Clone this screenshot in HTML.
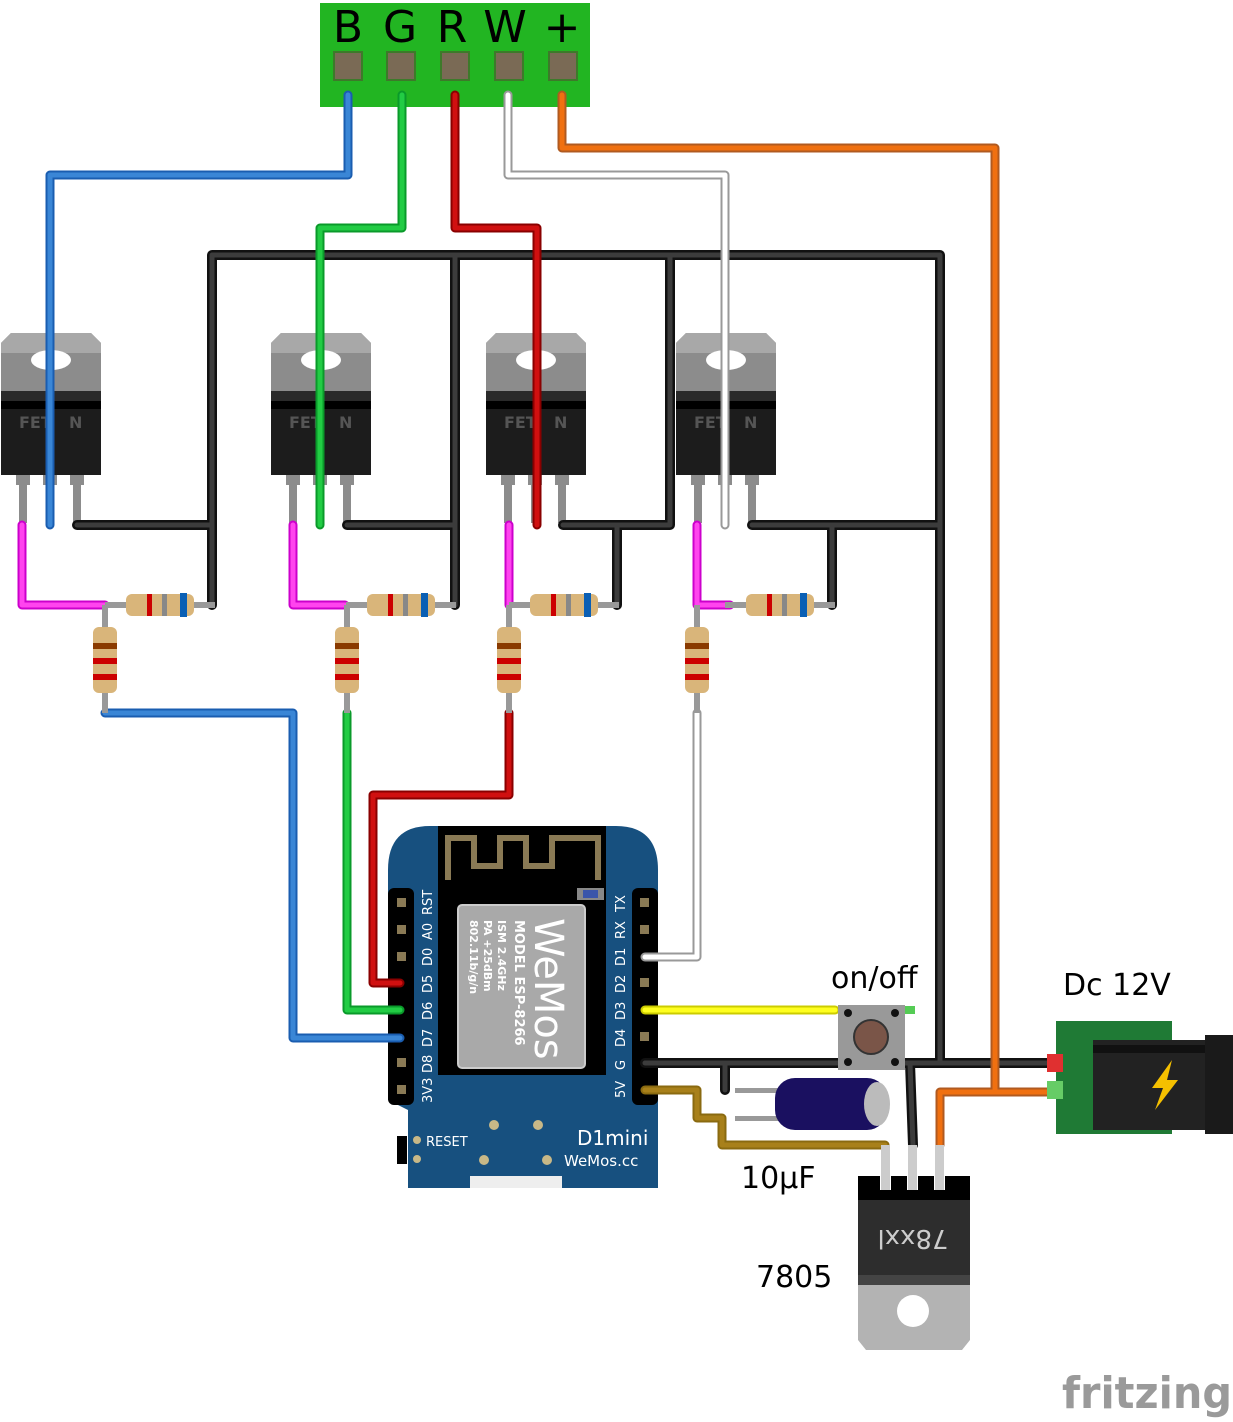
<!DOCTYPE html>
<html><head><meta charset="utf-8"><style>
html,body{margin:0;padding:0;background:#fff}
svg{display:block}
text{font-family:"DejaVu Sans","Liberation Sans",sans-serif}
</style></head><body>
<svg width="1233" height="1422" viewBox="0 0 1233 1422" xmlns="http://www.w3.org/2000/svg">
<defs>
<g id="fet">
  <path d="M0,10 L10,0 H90 L100,10 V58 H0Z" fill="#8c8c8c"/>
  <path d="M0,10 L10,0 H90 L100,10 V20 H0Z" fill="#a8a8a8"/>
  <ellipse cx="50" cy="27" rx="20" ry="10" fill="#fff"/>
  <rect x="0" y="58" width="100" height="24" fill="#2a2a2a"/>
  <rect x="0" y="68" width="100" height="8" fill="#000"/>
  <rect x="0" y="76" width="100" height="66" fill="#1c1c1c"/>
  <text x="18" y="95" font-size="16" font-weight="bold" fill="#555">FET</text>
  <text x="68" y="95" font-size="16" font-weight="bold" fill="#555">N</text>
  <rect x="15" y="142" width="14" height="10" fill="#8c8c8c"/><rect x="18" y="150" width="8" height="40" fill="#8c8c8c"/>
  <rect x="42" y="142" width="14" height="10" fill="#8c8c8c"/><rect x="45" y="150" width="8" height="40" fill="#8c8c8c"/>
  <rect x="69" y="142" width="14" height="10" fill="#8c8c8c"/><rect x="72" y="150" width="8" height="40" fill="#8c8c8c"/>
</g>
<g id="resH">
  <rect x="-55" y="-3" width="110" height="6" fill="#999"/>
  <rect x="-34" y="-11" width="68" height="22" rx="6" fill="#d9b57a"/>
  <rect x="-13" y="-11" width="5" height="22" fill="#c00"/>
  <rect x="2" y="-11" width="5" height="22" fill="#888"/>
  <rect x="20" y="-12" width="7" height="24" fill="#0a5fb4"/>
</g>
<g id="resV">
  <rect x="-3" y="0" width="6" height="108" fill="#999"/>
  <rect x="-12" y="22" width="24" height="66" rx="6" fill="#d9b57a"/>
  <rect x="-12" y="38" width="24" height="6" fill="#8a3a00"/>
  <rect x="-12" y="53" width="24" height="6" fill="#c00"/>
  <rect x="-12" y="69" width="24" height="6" fill="#c00"/>
</g>
</defs>

<rect x="320" y="3" width="270" height="104" fill="#22b522"/>
<g fill="#7a6a55" stroke="#3d7a2a" stroke-width="2">
<rect x="334" y="52" width="28" height="28"/><rect x="387" y="52" width="28" height="28"/><rect x="441" y="52" width="28" height="28"/><rect x="495" y="52" width="28" height="28"/><rect x="549" y="52" width="28" height="28"/>
</g>
<g font-size="44" fill="#000" text-anchor="middle">
<text x="348" y="42">B</text><text x="400" y="42">G</text><text x="452" y="42">R</text><text x="505" y="42">W</text><text x="562" y="42">+</text>
</g>

<use href="#fet" x="1" y="333"/>
<use href="#fet" x="271" y="333"/>
<use href="#fet" x="486" y="333"/>
<use href="#fet" x="676" y="333"/>

<path d="M388,1100 V870 Q388,826 430,826 H616 Q658,826 658,870 V1188 H408 V1110 Z" fill="#17507f"/>
<rect x="438" y="826" width="168" height="249" fill="#000"/>
<path d="M448,880 V838 H474 V866 H500 V838 H526 V866 H552 V838 H598 V880" fill="none" stroke="#8a7a55" stroke-width="6"/>
<rect x="577" y="888" width="27" height="12" fill="#888"/><rect x="583" y="890" width="15" height="8" fill="#3a55aa"/>
<rect x="458" y="905" width="127" height="163" rx="4" fill="#a9a9a9" stroke="#ccc" stroke-width="2"/>
<text transform="translate(515,920) rotate(90)" font-size="13" font-weight="bold" fill="#fff">MODEL ESP-8266</text>
<text transform="translate(498,920) rotate(90)" font-size="11" font-weight="bold" fill="#fff">ISM 2.4GHz</text>
<text transform="translate(484,920) rotate(90)" font-size="11" font-weight="bold" fill="#fff">PA +25dBm</text>
<text transform="translate(470,920) rotate(90)" font-size="11" font-weight="bold" fill="#fff">802.11b/g/n</text>
<text transform="translate(535,918) rotate(90)" font-size="40" fill="#fff">WeMos</text>
<g fill="#000">
<rect x="388" y="888" width="26" height="217" rx="6"/><rect x="632" y="888" width="26" height="217" rx="6"/>
</g>
<g fill="#8a7a55">
<rect x="397" y="898" width="9" height="9"/><rect x="397" y="925" width="9" height="9"/><rect x="397" y="952" width="9" height="9"/><rect x="397" y="1058" width="9" height="9"/><rect x="397" y="1085" width="9" height="9"/>
<rect x="640" y="898" width="9" height="9"/><rect x="640" y="925" width="9" height="9"/><rect x="640" y="978" width="9" height="9"/><rect x="640" y="1032" width="9" height="9"/>
</g>
<g font-size="13" fill="#fff" font-family="Liberation Mono">
<text transform="translate(432,915) rotate(-90)">RST</text>
<text transform="translate(432,940) rotate(-90)">A0</text>
<text transform="translate(432,966) rotate(-90)">D0</text>
<text transform="translate(432,993) rotate(-90)">D5</text>
<text transform="translate(432,1020) rotate(-90)">D6</text>
<text transform="translate(432,1047) rotate(-90)">D7</text>
<text transform="translate(432,1073) rotate(-90)">D8</text>
<text transform="translate(432,1103) rotate(-90)">3V3</text>
<text transform="translate(625,912) rotate(-90)">TX</text>
<text transform="translate(625,939) rotate(-90)">RX</text>
<text transform="translate(625,966) rotate(-90)">D1</text>
<text transform="translate(625,993) rotate(-90)">D2</text>
<text transform="translate(625,1020) rotate(-90)">D3</text>
<text transform="translate(625,1047) rotate(-90)">D4</text>
<text transform="translate(625,1070) rotate(-90)">G</text>
<text transform="translate(625,1098) rotate(-90)">5V</text>
</g>
<text x="426" y="1146" font-size="13" fill="#fff" font-family="Liberation Mono">RESET</text>
<text x="577" y="1145" font-size="20" fill="#fff" font-family="Liberation Mono">D1mini</text>
<text x="564" y="1166" font-size="15" fill="#fff" font-family="Liberation Mono">WeMos.cc</text>
<rect x="397" y="1136" width="10" height="28" fill="#000"/>
<rect x="470" y="1176" width="92" height="12" fill="#eee"/>
<g fill="#c8b887"><circle cx="494" cy="1125" r="5"/><circle cx="538" cy="1125" r="5"/><circle cx="484" cy="1160" r="5"/><circle cx="547" cy="1160" r="5"/><circle cx="417" cy="1140" r="4"/><circle cx="417" cy="1159" r="4"/></g>

<g fill="none" stroke-linejoin="round" stroke-linecap="round">
<g stroke="#111" stroke-width="10">
<path d="M212,255 H940 M212,255 V605 M455,255 V605 M670,255 V525 M940,255 V1063 M77,525 H212 M347,525 H455 M563,525 H670 M617,525 V605 M752,525 H940 M832,525 V605 M645,1063 H1050 M725,1063 V1090 M910,1063 L913,1145"/>
</g>
<g stroke="#3c3c3c" stroke-width="5">
<path d="M212,255 H940 M212,255 V605 M455,255 V605 M670,255 V525 M940,255 V1063 M77,525 H212 M347,525 H455 M563,525 H670 M617,525 V605 M752,525 H940 M832,525 V605 M645,1063 H1050 M725,1063 V1090 M910,1063 L913,1145"/>
</g>
<path d="M348,95 V175 H50 V525 M105,713 H293 V1038 H400" stroke="#1a5db0" stroke-width="9"/>
<path d="M348,95 V175 H50 V525 M105,713 H293 V1038 H400" stroke="#3a86d6" stroke-width="5"/>
<path d="M402,95 V228 H320 V525 M347,713 V1010 H400" stroke="#0a9a2a" stroke-width="9"/>
<path d="M402,95 V228 H320 V525 M347,713 V1010 H400" stroke="#22cc44" stroke-width="5"/>
<path d="M455,95 V228 H537 V525 M509,713 V795 H373 V983 H400" stroke="#8a0000" stroke-width="9"/>
<path d="M455,95 V228 H537 V525 M509,713 V795 H373 V983 H400" stroke="#d01010" stroke-width="5"/>
<path d="M508,95 V175 H725 V525 M697,713 V957 H645" stroke="#999" stroke-width="9"/>
<path d="M508,95 V175 H725 V525 M697,713 V957 H645" stroke="#fff" stroke-width="5"/>
<path d="M562,95 V148 H995 V1092 H1055 M940,1145 V1092 H995" stroke="#b05a20" stroke-width="9"/>
<path d="M562,95 V148 H995 V1092 H1055 M940,1145 V1092 H995" stroke="#f07010" stroke-width="5"/>
<path d="M22,525 V605 H105 M293,525 V605 H345 M509,525 V605 M697,525 V605 H730" stroke="#cc00cc" stroke-width="9"/>
<path d="M22,525 V605 H105 M293,525 V605 H345 M509,525 V605 M697,525 V605 H730" stroke="#ff44ee" stroke-width="5"/>
<path d="M645,1010 H835" stroke="#cccc00" stroke-width="9"/>
<path d="M645,1010 H835" stroke="#ffff20" stroke-width="5"/>
<path d="M645,1090 H697 V1118 H722 V1145 H885" stroke="#8a6a10" stroke-width="9"/>
<path d="M645,1090 H697 V1118 H722 V1145 H885" stroke="#a8801a" stroke-width="5"/>
</g>

<use href="#resH" x="160" y="605"/><use href="#resH" x="401" y="605"/><use href="#resH" x="564" y="605"/><use href="#resH" x="780" y="605"/>
<use href="#resV" x="105" y="605"/><use href="#resV" x="347" y="605"/><use href="#resV" x="509" y="605"/><use href="#resV" x="697" y="605"/>

<rect x="838" y="1005" width="67" height="65" fill="#999"/>
<circle cx="871" cy="1037" r="17" fill="#7a5548" stroke="#333" stroke-width="2"/>
<g fill="#111"><circle cx="848" cy="1013" r="4"/><circle cx="895" cy="1013" r="4"/><circle cx="848" cy="1062" r="4"/><circle cx="895" cy="1062" r="4"/></g>
<rect x="905" y="1006" width="10" height="8" fill="#5c5"/>

<rect x="735" y="1088" width="45" height="5" fill="#999"/><rect x="735" y="1116" width="45" height="5" fill="#999"/>
<rect x="775" y="1078" width="112" height="52" rx="20" fill="#1a1060"/>
<ellipse cx="877" cy="1104" rx="13" ry="22" fill="#bbb"/>

<rect x="881" y="1145" width="9" height="45" fill="#ccc"/><rect x="908" y="1145" width="9" height="45" fill="#ccc"/><rect x="935" y="1145" width="9" height="45" fill="#ccc"/>
<path d="M858,1176 H880 V1190 H891 V1176 H907 V1190 H918 V1176 H934 V1190 H945 V1176 H970 V1200 H858Z" fill="#000"/>
<rect x="858" y="1200" width="112" height="85" fill="#2d2d2d"/>
<rect x="858" y="1275" width="112" height="10" fill="#444"/>
<path d="M858,1285 H970 V1340 L962,1350 H866 L858,1340Z" fill="#b3b3b3"/>
<circle cx="913" cy="1311" r="16" fill="#fff"/>
<text transform="translate(913,1230) rotate(180)" text-anchor="middle" font-size="26" fill="#ccc">78xxl</text>

<rect x="1056" y="1021" width="116" height="113" fill="#1f7a35"/>
<rect x="1093" y="1040" width="112" height="90" fill="#222"/>
<rect x="1093" y="1045" width="112" height="8" fill="#111"/>
<rect x="1205" y="1035" width="28" height="99" fill="#1a1a1a"/>
<path d="M1172,1060 L1152,1088 H1163 L1155,1110 L1178,1080 H1167Z" fill="#f5c000"/>
<rect x="1047" y="1054" width="16" height="18" fill="#e03030"/>
<rect x="1047" y="1081" width="16" height="18" fill="#6c6"/>

<g fill="#000">
<text x="831" y="988" font-size="30">on/off</text>
<text x="1063" y="995" font-size="30">Dc 12V</text>
<text x="741" y="1188" font-size="30">10µF</text>
<text x="756" y="1287" font-size="30">7805</text>
</g>
<text x="1062" y="1408" font-size="44" font-weight="bold" fill="#9a9a9a" textLength="170" lengthAdjust="spacingAndGlyphs">fritzing</text>
</svg>
</body></html>
